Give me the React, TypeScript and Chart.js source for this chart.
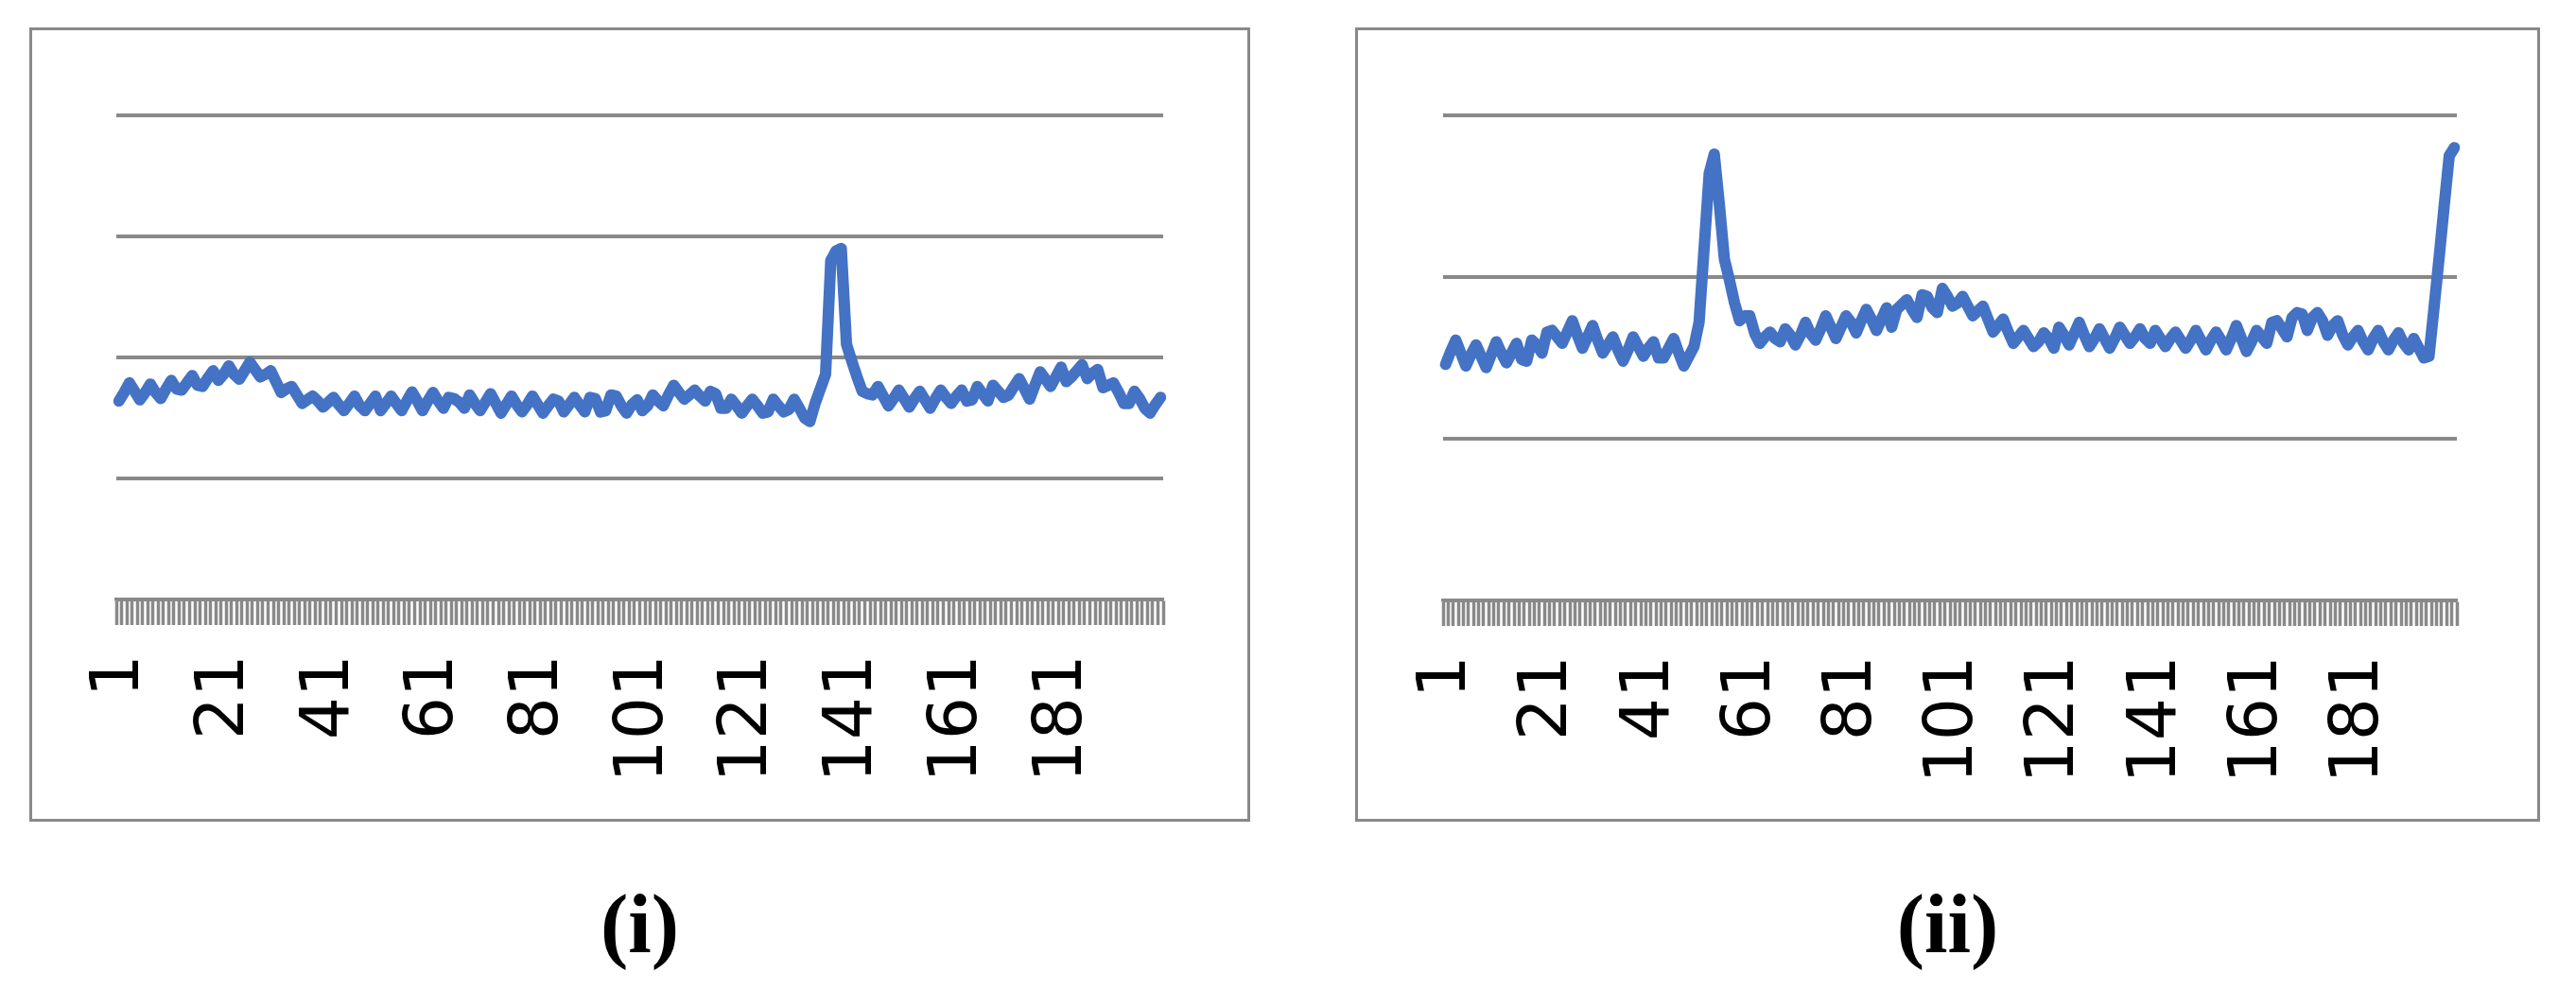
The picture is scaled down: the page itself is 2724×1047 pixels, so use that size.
import React, { useEffect, useRef } from "react";
import { Chart, registerables } from "chart.js";

Chart.register(...registerables);

const categories: string[] = Array.from({ length: 200 }, (_, i) => String(i + 1));
const tickLabels: string[] = ["1", "21", "41", "61", "81", "101", "121", "141", "161", "181"];

const seriesI: number[] = [
  1.64, 1.71, 1.79, 1.72, 1.65, 1.71, 1.78, 1.71, 1.66, 1.74,
  1.81, 1.74, 1.73, 1.79, 1.85, 1.77, 1.76, 1.83, 1.89, 1.81,
  1.86, 1.93, 1.86, 1.82, 1.89, 1.96, 1.90, 1.84, 1.86, 1.89,
  1.80, 1.71, 1.74, 1.76, 1.69, 1.62, 1.65, 1.68, 1.64, 1.59,
  1.63, 1.67, 1.61, 1.56, 1.62, 1.68, 1.60, 1.56, 1.62, 1.68,
  1.56, 1.62, 1.68, 1.62, 1.56, 1.64, 1.715, 1.64, 1.56, 1.64,
  1.71, 1.64, 1.58, 1.67, 1.66, 1.63, 1.58, 1.69, 1.62, 1.56,
  1.63, 1.70, 1.62, 1.54, 1.61, 1.68, 1.61, 1.55, 1.61, 1.68,
  1.61, 1.54, 1.60, 1.655, 1.64, 1.55, 1.61, 1.67, 1.61, 1.55,
  1.67, 1.66, 1.55, 1.56, 1.69, 1.68, 1.60, 1.54, 1.61, 1.65,
  1.56, 1.60, 1.69, 1.64, 1.60, 1.69, 1.77, 1.71, 1.655, 1.69,
  1.73, 1.68, 1.64, 1.72, 1.70, 1.58, 1.58, 1.655, 1.60, 1.54,
  1.60, 1.655, 1.60, 1.54, 1.55, 1.655, 1.60, 1.55, 1.57, 1.655,
  1.58, 1.50, 1.47, 1.62, 1.74, 1.86, 2.80, 2.88, 2.90, 2.11,
  1.97, 1.84, 1.72, 1.70, 1.69, 1.76, 1.68, 1.60, 1.66, 1.73,
  1.66, 1.59, 1.66, 1.72, 1.65, 1.58, 1.66, 1.73, 1.67, 1.62,
  1.68, 1.73, 1.64, 1.65, 1.76, 1.70, 1.64, 1.77, 1.72, 1.67,
  1.69, 1.76, 1.825, 1.74, 1.655, 1.77, 1.88, 1.82, 1.76, 1.84,
  1.92, 1.80, 1.84, 1.89, 1.94, 1.825, 1.87, 1.90, 1.75, 1.77,
  1.79, 1.71, 1.62, 1.62, 1.72, 1.66, 1.58, 1.54, 1.61, 1.67,
];

const seriesII: number[] = [
  1.46, 1.54, 1.61, 1.53, 1.45, 1.52, 1.58, 1.51, 1.44, 1.52,
  1.60, 1.53, 1.47, 1.53, 1.59, 1.49, 1.48, 1.61, 1.58, 1.53,
  1.66, 1.67, 1.63, 1.59, 1.66, 1.73, 1.64, 1.56, 1.63, 1.70,
  1.61, 1.53, 1.58, 1.63, 1.55, 1.48, 1.55, 1.63, 1.57, 1.51,
  1.56, 1.60, 1.50, 1.50, 1.56, 1.62, 1.53, 1.45, 1.51, 1.57,
  1.72, 2.18, 2.64, 2.76, 2.45, 2.11, 1.98, 1.84, 1.73, 1.76,
  1.76, 1.65, 1.59, 1.63, 1.66, 1.62, 1.60, 1.68, 1.64, 1.58,
  1.64, 1.72, 1.65, 1.61, 1.68, 1.76, 1.69, 1.62, 1.69, 1.76,
  1.72, 1.655, 1.73, 1.80, 1.74, 1.67, 1.74, 1.81, 1.69, 1.80,
  1.83, 1.86, 1.80, 1.75, 1.89, 1.88, 1.81, 1.78, 1.93, 1.88,
  1.82, 1.84, 1.88, 1.82, 1.76, 1.79, 1.82, 1.74, 1.66, 1.70,
  1.74, 1.66, 1.59, 1.63, 1.67, 1.62, 1.57, 1.60, 1.655, 1.62,
  1.56, 1.69, 1.64, 1.58, 1.65, 1.72, 1.64, 1.57, 1.62, 1.68,
  1.62, 1.56, 1.62, 1.69, 1.64, 1.59, 1.63, 1.68, 1.62, 1.59,
  1.67, 1.62, 1.57, 1.62, 1.66, 1.61, 1.56, 1.61, 1.67, 1.61,
  1.55, 1.61, 1.66, 1.61, 1.55, 1.62, 1.70, 1.62, 1.54, 1.60,
  1.67, 1.63, 1.59, 1.72, 1.73, 1.68, 1.63, 1.75, 1.78, 1.77,
  1.67, 1.75, 1.78, 1.73, 1.64, 1.70, 1.73, 1.64, 1.58, 1.63,
  1.67, 1.60, 1.55, 1.62, 1.67, 1.60, 1.55, 1.61, 1.655, 1.59,
  1.55, 1.62, 1.56, 1.50, 1.51, 1.81, 2.12, 2.44, 2.75, 2.80,
];

const GRAY = "#898989";
const LINE = "#4472C4";

type PanelProps = {
  data: number[];
  yMax: number;
  width: number;
  height: number;
  pad: { left: number; right: number; top: number };
  axisHeight: number;
};

function Panel({ data, yMax, width, height, pad, axisHeight }: PanelProps) {
  const ref = useRef<HTMLCanvasElement | null>(null);
  useEffect(() => {
    if (!ref.current) return;
    const chart = new Chart(ref.current, {
      type: "line",
      data: {
        labels: categories,
        datasets: [
          {
            data: data,
            borderColor: LINE,
            borderWidth: 12,
            pointRadius: 0,
            tension: 0,
            fill: false,
            borderJoinStyle: "round",
            borderCapStyle: "round",
          },
        ],
      },
      options: {
        animation: false,
        responsive: false,
        maintainAspectRatio: false,
        layout: { padding: { left: pad.left, right: pad.right, top: pad.top, bottom: 0 } },
        plugins: { legend: { display: false }, tooltip: { enabled: false } },
        scales: {
          x: {
            type: "category",
            offset: true,
            grid: {
              display: true,
              drawOnChartArea: false,
              drawTicks: true,
              offset: true,
              tickLength: 27,
              tickWidth: 3.5,
              tickColor: GRAY,
            },
            border: { display: true, color: GRAY, width: 3.5 },
            ticks: {
              autoSkip: false,
              minRotation: 90,
              maxRotation: 90,
              padding: 31,
              labelOffset: 2,
              color: "#000000",
              font: { family: "DejaVu Sans", size: 71 },
              callback: (_v: any, i: number) =>
                tickLabels.includes(categories[i]) ? categories[i] : "",
            },
            afterFit: (s: any) => {
              s.height = axisHeight;
              s.paddingLeft = 0;
              s.paddingRight = 0;
            },
          },
          y: {
            min: 0,
            max: yMax,
            ticks: { display: false, stepSize: 1 },
            grid: { color: GRAY, lineWidth: 4, drawTicks: false },
            border: { display: false },
          },
        },
      },
    });
    return () => chart.destroy();
  }, [data, yMax, pad, axisHeight]);
  return (
    <canvas
      ref={ref}
      width={width}
      height={height}
      style={{ position: "absolute", left: 0, top: 0, width, height, display: "block" }}
    />
  );
}

const captionStyle: React.CSSProperties = {
  position: "absolute",
  top: 935,
  height: 86,
  lineHeight: "86px",
  fontFamily: "'Liberation Serif', 'Times New Roman', serif",
  fontWeight: "bold",
  fontSize: 88,
  textAlign: "center",
  color: "#000",
};

const panelI = { left: 31, top: 29, width: 1291, height: 840 };
const panelII = { left: 1433, top: 29, width: 1253, height: 840 };

export default function App() {
  return (
    <div
      style={{
        position: "absolute",
        left: 0,
        top: 0,
        width: 2724,
        height: 1047,
        background: "#ffffff",
        overflow: "hidden",
      }}
    >
      <div
        style={{
          position: "absolute",
          ...panelI,
          border: `3px solid ${GRAY}`,
          boxSizing: "border-box",
        }}
      >
        <Panel
          data={seriesI}
          yMax={4}
          width={panelI.width - 6}
          height={panelI.height - 6}
          pad={{ left: 89, right: 89, top: 90 }}
          axisHeight={232}
        />
      </div>
      <div
        style={{
          position: "absolute",
          ...panelII,
          border: `3px solid ${GRAY}`,
          boxSizing: "border-box",
        }}
      >
        <Panel
          data={seriesII}
          yMax={3}
          width={panelII.width - 6}
          height={panelII.height - 6}
          pad={{ left: 90, right: 85, top: 90 }}
          axisHeight={231}
        />
      </div>
      <div style={{ ...captionStyle, left: panelI.left, width: panelI.width }}>(i)</div>
      <div style={{ ...captionStyle, left: panelII.left, width: panelII.width }}>(ii)</div>
    </div>
  );
}
